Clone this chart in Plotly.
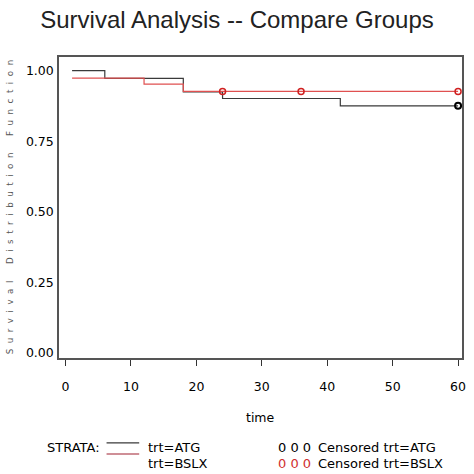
import plotly.graph_objects as go

# ---------- data ----------
atg_time = [1, 6, 18, 24, 42, 60]
atg_surv = [1.0, 0.972, 0.924, 0.901, 0.875, 0.875]
bslx_time = [1, 12, 18, 60]
bslx_surv = [0.973, 0.952, 0.926, 0.926]

atg_cens_time = [60]
atg_cens_surv = [0.875]
bslx_cens_time = [24, 36, 60]
bslx_cens_surv = [0.926, 0.926, 0.926]

x_ticks = [0, 10, 20, 30, 40, 50, 60]
y_ticks = [0.0, 0.25, 0.5, 0.75, 1.0]
y_tick_text = ['0.00', '0.25', '0.50', '0.75', '1.00']

BLACK = '#3a3a3a'
RED = '#e05050'
FONT = 'DejaVu Sans, sans-serif'
TITLE_FONT = 'Liberation Sans, Arial, sans-serif'

fig = go.Figure()
fig.add_trace(go.Scatter(x=atg_time, y=atg_surv, mode='lines', line_shape='hv',
                         line=dict(color=BLACK, width=1.2), showlegend=False))
fig.add_trace(go.Scatter(x=bslx_time, y=bslx_surv, mode='lines', line_shape='hv',
                         line=dict(color=RED, width=1.2), showlegend=False))
fig.add_trace(go.Scatter(x=atg_cens_time, y=atg_cens_surv, mode='markers',
                         marker=dict(symbol='circle-open', size=6, color='black',
                                     line=dict(width=2)), showlegend=False))
fig.add_trace(go.Scatter(x=bslx_cens_time, y=bslx_cens_surv, mode='markers',
                         marker=dict(symbol='circle-open', size=6, color='#d02020',
                                     line=dict(width=1.5)), showlegend=False))

# ---------- legend (SAS style, drawn by hand) ----------
row1, row2 = -0.299, -0.349
ann = [
    dict(x=-0.034, y=row1, text='STRATA:'),
    dict(x=0.216, y=row1, text='trt=ATG'),
    dict(x=0.216, y=row2, text='trt=BSLX'),
    dict(x=0.538, y=row1, text='0 0 0'),
    dict(x=0.538, y=row2, text='0 0 0', color='#d03030'),
    dict(x=0.638, y=row1, text='Censored trt=ATG'),
    dict(x=0.638, y=row2, text='Censored trt=BSLX'),
]
annotations = []
for a in ann:
    annotations.append(dict(x=a['x'], y=a['y'], xref='paper', yref='paper', text=a['text'],
                            xanchor='left', yanchor='middle', showarrow=False,
                            font=dict(size=13, color=a.get('color', 'black'), family=FONT)))

gap = '\u2007'
ytitle = (gap * 3).join(gap.join(w) for w in ['Survival', 'Distribution', 'Function'])
annotations.append(dict(x=-0.122, y=0.5, xref='paper', yref='paper', text=ytitle,
                        textangle=-90, showarrow=False, xanchor='center', yanchor='middle',
                        font=dict(size=8.7, color='#555555', family=FONT)))
annotations.append(dict(x=0.5, y=-0.199, xref='paper', yref='paper', text='time',
                        showarrow=False, xanchor='center', yanchor='middle',
                        font=dict(size=12.5, color='black', family=FONT)))

shapes = [
    dict(type='line', xref='paper', yref='paper', x0=0.118, x1=0.199, y0=-0.282, y1=-0.282,
         line=dict(color=BLACK, width=1.2)),
    dict(type='line', xref='paper', yref='paper', x0=0.118, x1=0.199, y0=-0.319, y1=-0.319,
         line=dict(color='#a02030', width=1.2)),
]

fig.update_layout(
    width=474, height=474,
    margin=dict(l=59, r=8, t=57, b=116),
    paper_bgcolor='white', plot_bgcolor='white',
    title=dict(text='Survival Analysis -- Compare Groups', x=0.5, xanchor='center',
               y=0.958, yanchor='middle',
               font=dict(size=24, color='#222222', family=TITLE_FONT)),
    xaxis=dict(range=[-1.0, 60.6], tickvals=x_ticks, showgrid=False, zeroline=False,
               showline=True, linecolor='#555555', linewidth=1.5, mirror=True,
               ticks='outside', ticklen=6, tickcolor='#333333', ticklabelstandoff=10,
               tickfont=dict(size=12.5, color='black', family=FONT)),
    yaxis=dict(range=[-0.018, 1.048], tickvals=y_ticks, ticktext=y_tick_text,
               showgrid=False, zeroline=False, showline=True, linecolor='#555555',
               linewidth=1.5, mirror=True, ticks='', ticklabelstandoff=1,
               tickfont=dict(size=12.5, color='black', family=FONT)),
    annotations=annotations,
    shapes=shapes,
)

fig.write_html('out.html', config={'displayModeBar': False},
               post_script="document.body.style.margin='0px';")
